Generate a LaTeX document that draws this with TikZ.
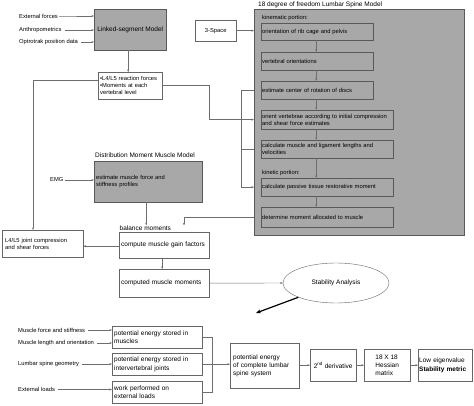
\documentclass[tikz,border=0pt]{standalone}
\usepackage{fontspec}
\setmainfont{Liberation Sans}
\usepackage{tikz}
\usetikzlibrary{arrows.meta, shapes.geometric}
\usepackage[x11names]{xcolor}
\definecolor{boxgray}{HTML}{A8A8A8}
\definecolor{linegray}{HTML}{6E6E6E}

\begin{document}
\begin{tikzpicture}[x=1pt, y=-1pt,
    txt/.style={font=\fontsize{5.8}{7.2}\selectfont, inner sep=1pt},
    lbl/.style={txt, anchor=west},
    bigbox/.style={draw=gray!70!black, fill=boxgray, anchor=north west, inner sep=0pt},
    inbox/.style={draw=black!65, fill=boxgray, anchor=north west, align=left, inner xsep=2.5pt, inner ysep=1pt, txt},
    wbox/.style={draw=gray!80!black, fill=white, anchor=north west, align=left, inner xsep=2pt, inner ysep=1pt, font=\fontsize{6.5}{8.3}\selectfont},
    arr/.style={draw=linegray, -{Stealth[length=2.6pt, width=2pt]}},
    ln/.style={draw=linegray}]
    % Fix the page size
    \useasboundingbox (0,0) rectangle (474,406);

    % Draw the linked-segment model and its inputs
    \node[bigbox, minimum width=72pt, minimum height=41pt, font=\fontsize{6.5}{8}\selectfont] (lsm) at (94,9) {Linked-segment Model};
    \node[lbl] (ext) at (18,16) {External forces};
    \node[lbl] (anth) at (18,30) {Anthropometrics};
    \node[lbl] (opto) at (18,42) {Optrotrak position data};
    \draw[arr] (ext.east) -- ++(3,0) -- (ext.east -| lsm.west);
    \draw[arr] ([xshift=2pt]anth.east) -- (anth.east -| lsm.west);
    \draw[arr] ([xshift=2pt]opto.east) -- (opto.east -| lsm.west);
    \node[wbox, txt, inner xsep=2pt, text width=60pt, minimum height=27pt] (react) at (98,72) {\textbullet L4/L5 reaction forces\\\textbullet Moments at each\\vertebral level};
    \draw[arr] ([xshift=-2pt]lsm.south) -- ([xshift=-2pt]lsm.south |- react.north);

    % Draw the 18 dof lumbar spine model
    \node[bigbox, minimum width=210pt, minimum height=226pt] (spine) at (254,9) {};
    \node[anchor=west, font=\fontsize{6.5}{8}\selectfont, inner sep=0pt] (title) at (258,4.5) {18 degree of freedom Lumbar Spine Model};
    \node[lbl] (kin) at (261,18) {kinematic portion:};
    \node[inbox, text width=110pt, minimum height=17pt] (k1) at (261,23) {orientation of rib cage and pelvis};
    \node[inbox, text width=110pt, minimum height=18pt] (k2) at (261,52) {vertebral orientations};
    \node[inbox, text width=110pt, minimum height=18pt] (k3) at (261,81) {estimate center of rotation of discs};
    \node[inbox, text width=130pt, minimum height=19pt] (k4) at (261,110) {orient vertebrae according to initial compression\\and shear force estimates};
    \node[inbox, text width=130pt, minimum height=18pt] (k5) at (261,140) {calculate muscle and ligament lengths and\\velocities};
    \node[lbl] (kint) at (261,173) {kinetic portion:};
    \node[inbox, text width=130pt, minimum height=18pt] (k6) at (261,178) {calculate passive tissue restorative moment};
    \node[inbox, text width=130pt, minimum height=20pt] (k7) at (261,207) {determine moment allocated to muscle};
    \draw[arr] ([xshift=-1pt]k1.south) -- ([xshift=-1pt]k1.south |- k2.north);
    \draw[arr] ([xshift=-1pt]k2.south) -- ([xshift=-1pt]k2.south |- k3.north);
    \draw[arr] ([xshift=-1pt]k3.south) -- ([xshift=-1pt]k3.south |- k4.north);
    \draw[arr] ([xshift=-1pt]k3.south |- k4.south) -- ([xshift=-1pt]k3.south |- k5.north);
    \draw[arr] ([xshift=-1pt]k3.south |- k5.south) -- ([xshift=-1pt]k3.south |- k6.north);
    \draw[arr] ([xshift=-1pt]k3.south |- k6.south) -- ([xshift=-1pt]k3.south |- k7.north);

    % Draw the 3-space input and the feedback lines
    \node[wbox, txt, minimum width=41pt, minimum height=21pt, align=center] (space) at (195,20) {3-Space};
    \draw[arr] (space.east) -- (space.east -| spine.west);
    \draw[arr] (react.east) -- ([xshift=47pt]react.east) |- (k4.west -| spine.west);
    \draw[arr] (k3.west -| spine.west) -- ++(-13,0) |- (k6.west -| spine.west);
    \draw[ln] (k5.west -| spine.west) -- ++(-13,0);

    % Draw the distribution moment muscle model
    \node[bigbox, minimum width=108pt, minimum height=41pt] (dmm) at (94,161) {};
    \node[inbox, draw=none, fill=none, anchor=west, text width=90pt] (dmmtxt) at (95,181.5) {estimate muscle force and\\stiffness profiles};
    \node[anchor=west, font=\fontsize{6.5}{8}\selectfont, inner sep=0pt] (dmmtitle) at (95,155) {Distribution Moment Muscle Model};
    \node[lbl] (emg) at (49,180) {EMG};
    \draw[arr] (emg.east) -- (emg.east -| dmm.west);

    % Draw the balance moments chain
    \node[anchor=west, font=\fontsize{6.5}{8}\selectfont, inner sep=0.5pt] (bal) at (119,228.5) {balance moments};
    \node[wbox, text width=86pt, minimum height=26pt] (gain) at (119,232) {compute muscle gain factors};
    \node[wbox, txt, inner xsep=3pt, text width=75pt, minimum height=27pt] (joint) at (2,230) {L4/L5 joint compression\\and shear forces};
    \node[wbox, text width=86pt, minimum height=28pt] (mom) at (119,269) {computed muscle moments};
    \draw[arr] ([xshift=-2pt]dmm.south) -- ([xshift=-2pt]dmm.south |- bal.north);
    \draw[arr] (k7.west -| spine.west) -| ([xshift=65pt]bal.north west);
    \draw[arr] ([yshift=-1pt]gain.west) -- ([yshift=-1pt]gain.west -| joint.east);
    \draw[arr] ([yshift=-8pt]react.north west) -| ([xshift=31pt]joint.north west);
    \draw[arr] ([xshift=-2pt]gain.south) -- ([xshift=-2pt]mom.north);

    % Draw the stability analysis
    \node[ellipse, draw=gray!80!black, fill=white, minimum width=106pt, minimum height=40pt, font=\fontsize{6.5}{8}\selectfont] (stab) at (336,283) {Stability Analysis};
    \coordinate (down) at (256,313);
    \draw[arr] (mom.east) -- (stab.west);
    \draw[very thick, -{Stealth[length=5pt, width=4pt]}] (stab.south west) -- (down);

    % Draw the energy boxes and their inputs
    \node[wbox, text width=86pt, minimum height=22pt] (pA) at (112,326) {potential energy stored in\\muscles};
    \node[wbox, text width=86pt, minimum height=22pt] (pB) at (112,353) {potential energy stored in\\intervertebral joints};
    \node[wbox, text width=86pt, minimum height=22pt] (pC) at (112,381) {work performed on\\external loads};
    \node[lbl] (mfs) at (17,330) {Muscle force and stiffness};
    \node[lbl] (mlo) at (17,343) {Muscle length and orientation};
    \node[lbl] (lsg) at (17,364) {Lumbar spine geometry};
    \node[lbl] (exl) at (17,389.5) {External loads};
    \draw[arr] ([xshift=2pt]mfs.east) -- (mfs.east -| pA.west);
    \draw[arr] ([xshift=2pt]mlo.east) -- (mlo.east -| pA.west);
    \draw[arr] ([xshift=2pt]lsg.east) -- (lsg.east -| pB.west);
    \draw[arr] ([xshift=2pt]exl.east) -- (exl.east -| pC.west);
    \draw[ln] (pA.east) -- ++(10,0) |- (pC.east);

    % Draw the chain to the stability metric
    \node[wbox, inner xsep=3pt, text width=63pt, minimum height=45pt] (pD) at (230,343) {potential energy\\of complete lumbar\\spine system};
    \node[wbox, minimum width=46pt, minimum height=32pt, align=center] (der) at (310,349) {2\textsuperscript{nd} derivative};
    \node[wbox, minimum width=46pt, minimum height=32pt] (hes) at (364,349) {18 X 18\\Hessian\\matrix};
    \node[wbox, text width=52pt, minimum height=32pt, inner xsep=1pt] (met) at (418,349) {Low eigenvalue\\\textbf{Stability metric}};
    \draw[arr] (pB.east) -- (pB.east -| pD.west);
    \draw[arr] (pD.east |- der) -- (der.west);
    \draw[arr] (der.east) -- (hes.west);
    \draw[arr] (hes.east) -- (met.west);
\end{tikzpicture}
\end{document}
